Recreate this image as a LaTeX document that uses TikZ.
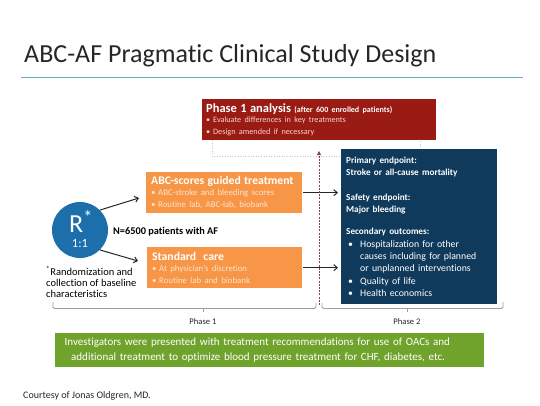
\documentclass[tikz,border=0pt]{standalone}
\usepackage{fontspec}
\setmainfont{Carlito}[Ligatures=NoCommon]
\usetikzlibrary{positioning,arrows.meta}
\definecolor{tlx}{HTML}{5DADBD}
\definecolor{rdx}{HTML}{9A1B14}
\definecolor{rdl}{HTML}{F4D2CC}
\definecolor{orx}{HTML}{F79646}
\definecolor{orl}{HTML}{FDE3CC}
\definecolor{nvx}{HTML}{0F3A5C}
\definecolor{gnx}{HTML}{6FA32B}
\definecolor{blx}{HTML}{1D6FAB}
\definecolor{brx}{HTML}{A69AA0}
\definecolor{mrx}{HTML}{8B3D5C}
\colorlet{dtx}{black!22}
\newcommand{\bul}{\makebox[7pt][l]{\textbullet}}
\newcommand{\bigbul}{\makebox[14pt][l]{\hspace{2pt}\textbullet}}
\tikzset{
    box/.style={fill,inner sep=0pt,anchor=north west,align=left,text=white},
    arr/.style={-{Straight Barb[length=3.5pt,width=6pt]},line width=1pt,black!85},
    brk/.style={brx,line width=0.8pt},
    dasharr/.style={mrx,line width=0.8pt,dash pattern=on 2pt off 1.2pt,-{Triangle[length=4pt,width=4pt]}},
    dotln/.style={dtx,line width=0.6pt,dotted}
}
\begin{document}
\begin{tikzpicture}[x=1pt,y=-1pt]
    \useasboundingbox (0,0) rectangle (540,405);
    \node [anchor=base west,inner sep=0pt,font=\fontsize{26}{26}\selectfont,text=black!85] (title) at (24,62) {ABC-AF Pragmatic Clinical Study Design};
    \draw [tlx,line width=1pt] (21,77) -- (523,77);
    \node [box,fill=rdx,minimum width=234pt,minimum height=41pt,text width=226pt,inner xsep=4pt] (ana) at (202,99) {%
        {\fontsize{12.5}{13}\selectfont\bfseries Phase 1 analysis} {\fontsize{8}{8}\selectfont\bfseries (after 600 enrolled patients)}\\[-2pt]
        {\fontsize{8.2}{11}\selectfont\color{rdl}\bul Evaluate differences in key treatments}\\
        {\fontsize{8.2}{11}\selectfont\color{rdl}\bul Design amended if necessary}};
    \draw [dotln] ([xshift=10pt]ana.south west) -- ++(0,16) -| ([xshift=-16pt]ana.south east);
    \node [circle,fill=blx,minimum size=56pt,inner sep=0pt] (rand) at (80,230) {};
    \node [inner sep=0pt,text=white,font=\fontsize{26}{26}\selectfont] (rlet) at (81,222) {R\textsuperscript{*}};
    \node [inner sep=0pt,text=white,font=\fontsize{12.5}{12.5}\selectfont] (ratio) at (80,244) {1:1};
    \node [anchor=west,inner sep=0pt,font=\fontsize{10.3}{10}\selectfont\bfseries] (nlab) at (113,232) {N=6500 patients with AF};
    \node [anchor=north west,inner sep=0pt,align=left,font=\fontsize{10.5}{10.8}\selectfont] (rnote) at (46,266) {\textsuperscript{*}Randomization and\\collection of baseline\\characteristics};
    \node [box,fill=orx,minimum width=156pt,minimum height=41pt,text width=146pt,inner xsep=5pt] (guided) at (146,172) {%
        {\fontsize{11.7}{12}\selectfont\bfseries ABC-scores guided treatment}\\[-1pt]
        {\fontsize{8.8}{11}\selectfont\color{orl}\bul ABC-stroke and bleeding scores}\\
        {\fontsize{8.8}{11}\selectfont\color{orl}\bul Routine lab, ABC-lab, biobank}};
    \node [box,fill=orx,minimum width=155pt,minimum height=41pt,text width=145pt,inner xsep=5pt] (standard) at (147,247) {%
        {\fontsize{11.7}{12}\selectfont\bfseries Standard\hspace{4pt} care}\\[-1pt]
        {\fontsize{8.8}{11}\selectfont\color{orl}\bul At physician's discretion}\\
        {\fontsize{8.8}{11}\selectfont\color{orl}\bul Routine lab and biobank}};
    \coordinate (ua) at (139,198);
    \coordinate (la) at (138,261);
    \draw [arr] (rand.45) -- (ua);
    \draw [arr] (rand.-45) -- (la);
    \node [box,fill=nvx,minimum width=156pt,minimum height=155pt,text width=146pt,inner xsep=5pt,font=\fontsize{9.8}{12.4}\selectfont] (endp) at (341,149) {%
        {\fontsize{9.2}{12.4}\selectfont\bfseries Primary endpoint:}\\
        {\fontsize{9.2}{12.4}\selectfont\bfseries Stroke or all-cause mortality}\\[12.4pt]
        {\fontsize{9.2}{12.4}\selectfont\bfseries Safety endpoint:}\\
        {\fontsize{9.2}{12.4}\selectfont\bfseries Major bleeding}\\[9.6pt]
        {\fontsize{9.2}{12.4}\selectfont\bfseries Secondary outcomes:}\\
        \bigbul Hospitalization for other\\
        \hspace*{14pt}causes including for planned\\
        \hspace*{14pt}or unplanned interventions\\
        \bigbul Quality of life\\
        \bigbul Health economics};
    \draw [arr,shorten >=3pt] ([xshift=1pt]guided.east) -- (guided.east -| endp.west);
    \draw [arr,shorten >=3pt] ([xshift=1pt]standard.east) -- (standard.east -| endp.west);
    \coordinate (split) at (319,305);
    \coordinate (top) at (319,151);
    \draw [dasharr] (split) -- (top);
    \draw [brk,rounded corners=1.5pt] (53,302) |- (316,308.5) -- (316,303);
    \draw [brk,rounded corners=1.5pt] (322,303) -- (322,308.5) -| (503,302);
    \draw [brk] (203,308.5) -- (203,312);
    \draw [brk] (407,308.5) -- (407,312);
    \node [font=\fontsize{8.6}{9}\selectfont,text=black!85] (ph1) at (203,322) {Phase 1};
    \node [font=\fontsize{8.6}{9}\selectfont,text=black!85] (ph2) at (407,322) {Phase 2};
    \node [box,fill=gnx,minimum width=429pt,minimum height=34pt,text width=429pt,align=center,font=\fontsize{11}{15}\selectfont] (recs) at (55,333) {%
        \makebox[410pt][s]{Investigators were presented with treatment recommendations for use of OACs and}\\
        \makebox[397pt][s]{additional treatment to optimize blood pressure treatment for CHF, diabetes, etc.}};
    \node [anchor=west,inner sep=0pt,font=\fontsize{10}{10}\selectfont,text=black!85] (cred) at (23,396) {Courtesy of Jonas Oldgren, MD.};
\end{tikzpicture}
\end{document}
